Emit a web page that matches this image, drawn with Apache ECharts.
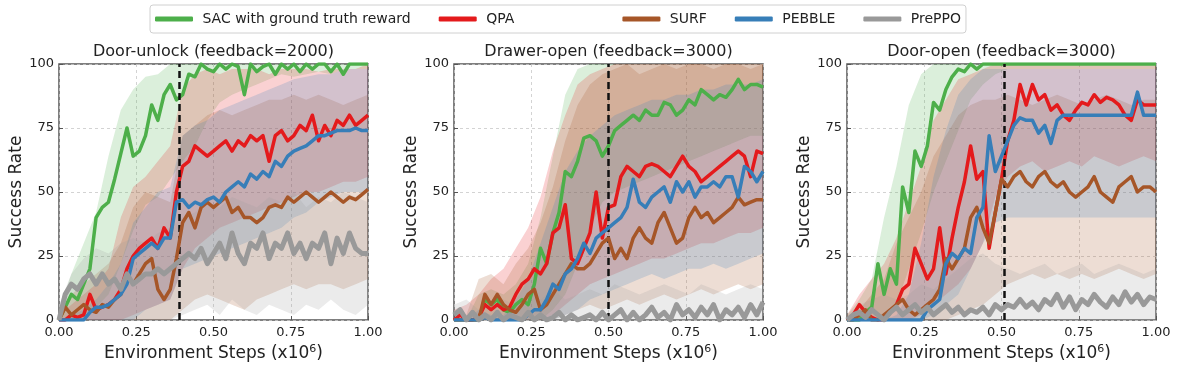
<!DOCTYPE html>
<html>
<head>
<meta charset="utf-8">
<script src="https://cdn.jsdelivr.net/npm/echarts@6/dist/echarts.min.js"></script>
<style>
  html, body { margin: 0; padding: 0; background: #fff; }
  #chart { width: 1179px; height: 370px; }
</style>
</head>
<body>
<div id="chart"></div>
<script>
// x positions (environment steps, x10^6)
const steps = [0,0.02,0.04,0.06,0.08,0.1,0.12,0.14,0.16,0.18,0.2,0.22,0.24,0.26,0.28,0.3,0.32,0.34,0.36,0.38,0.4,0.42,0.44,0.46,0.48,0.5,0.52,0.54,0.56,0.58,0.6,0.62,0.64,0.66,0.68,0.7,0.72,0.74,0.76,0.78,0.8,0.82,0.84,0.86,0.88,0.9,0.92,0.94,0.96,0.98,1]
const bandSteps = [0,0.04,0.08,0.12,0.16,0.2,0.24,0.28,0.32,0.36,0.4,0.44,0.48,0.52,0.56,0.6,0.64,0.68,0.72,0.76,0.8,0.84,0.88,0.92,0.96,1]

const methods = ['SAC with ground truth reward', 'QPA', 'SURF', 'PEBBLE', 'PrePPO']
const titles = ['Door-unlock (feedback=2000)', 'Drawer-open (feedback=3000)', 'Door-open (feedback=3000)']
const switchSteps = [0.39, 0.5, 0.505]
const yTicks = [0, 25, 50, 75, 100]

// Door-unlock
const unlockSac = [0,5,10,8,14,20,40,44,46,55,65,75,64,66,72,84,78,88,92,86,88,96,95,100,98,97,100,98,100,99,88,100,97,99,100,96,100,98,100,97,100,98,100,100,97,100,96,100,100,100,100]
const unlockQpa = [0,0,2,1,2,10,4,5,6,8,12,20,25,28,30,32,28,36,32,50,60,62,68,66,64,66,68,70,66,70,68,72,70,72,62,72,74,70,72,76,74,80,70,76,72,78,76,80,76,78,80]
const unlockSurf = [0,5,2,4,6,4,3,6,5,8,10,18,14,18,22,24,12,8,12,24,38,42,36,44,46,44,46,48,42,44,40,40,38,40,44,45,44,48,46,48,50,48,46,48,50,48,46,48,47,49,51]
const unlockPebble = [0,0,0,0,0,3,5,5,6,8,10,14,24,26,28,30,28,32,32,46,47,44,46,45,47,48,46,50,52,54,52,57,55,58,56,62,60,64,66,67,68,70,72,72,73,74,74,74,75,74,74]
const unlockPreppo = [0,10,14,12,16,18,14,18,14,16,12,18,14,16,18,18,20,18,20,22,24,26,24,28,22,26,30,24,34,26,22,30,28,34,24,30,28,34,26,30,24,30,28,34,22,32,26,34,28,26,26]
const unlockSacLo = [0,0,2,5,10,22,35,45,48,55,62,68,78,85,88,90,92,94,96,95,96,97,96,98,98,98]
const unlockSacHi = [4,18,30,42,64,82,90,95,96,100,100,100,100,100,100,100,100,100,100,100,100,100,100,100,100,100]
const unlockQpaLo = [0,0,0,0,0,0,2,4,6,8,20,28,32,36,38,40,42,44,46,48,50,50,52,54,54,56]
const unlockQpaHi = [2,6,10,14,20,40,52,56,62,68,90,96,98,96,98,98,98,96,98,98,98,97,98,98,98,100]
const unlockSurfLo = [0,0,0,0,0,0,0,0,0,0,4,8,10,8,6,4,8,10,12,14,12,14,14,12,14,16]
const unlockSurfHi = [4,10,14,18,22,30,44,50,48,46,72,76,80,82,80,82,84,86,86,88,86,88,86,84,86,88]
const unlockPebbleLo = [0,0,0,0,0,0,0,4,6,8,20,22,24,26,28,30,32,34,36,40,42,46,48,50,50,50]
const unlockPebbleHi = [0,2,4,8,14,22,38,44,50,52,72,76,78,82,84,86,88,90,92,94,95,96,96,98,98,98]
const unlockPreppoLo = [0,0,0,0,0,0,0,0,0,0,2,4,6,2,8,4,2,6,4,2,6,4,8,4,2,6]
const unlockPreppoHi = [6,18,24,28,26,30,32,30,34,36,40,42,46,44,48,46,44,48,46,50,44,48,46,50,48,46]

// Drawer-open
const drawerSac = [0,0,0,0,0,8,6,8,4,3,6,8,6,14,28,22,34,42,58,56,62,71,72,70,64,68,74,76,78,80,78,82,80,80,85,84,80,82,86,84,90,88,86,88,87,90,94,90,92,92,91]
const drawerQpa = [0,2,0,0,1,6,4,6,4,5,10,14,16,20,18,22,34,36,45,24,22,28,34,50,32,44,45,56,60,58,56,60,61,60,58,56,60,64,60,58,54,56,58,60,62,64,66,64,56,66,65]
const drawerSurf = [0,0,0,0,0,10,6,10,6,4,3,6,10,12,4,6,10,14,18,22,20,20,22,26,30,32,24,28,24,32,36,32,30,38,42,36,30,32,40,44,40,42,38,40,42,44,48,45,46,47,47]
const drawerPebble = [0,0,0,0,0,1,0,0,0,0,0,0,2,4,4,8,14,12,18,20,24,30,26,32,34,36,38,40,44,55,46,44,48,50,52,46,54,50,54,48,52,52,54,52,56,56,48,60,58,54,58]
const drawerPreppo = [2,4,0,3,0,2,0,3,0,2,1,0,3,0,2,0,1,3,0,2,0,1,2,0,3,0,2,4,0,3,0,2,5,1,3,0,6,2,4,1,5,2,6,0,4,2,5,1,6,2,7]
const drawerSacLo = [0,0,0,0,0,0,0,0,4,10,22,36,46,50,52,54,56,58,60,62,64,66,68,70,72,72]
const drawerSacHi = [0,0,10,12,10,14,22,40,64,88,98,100,100,100,100,100,100,100,100,100,100,100,100,100,100,100]
const drawerQpaLo = [0,0,0,0,0,0,0,0,2,6,10,14,16,18,20,22,24,24,26,28,30,30,32,34,34,36]
const drawerQpaHi = [4,6,10,16,20,28,36,48,66,80,92,96,98,100,100,100,100,100,100,100,100,100,100,100,100,100]
const drawerSurfLo = [0,0,0,0,0,0,0,0,0,2,4,6,4,6,8,6,8,10,8,10,12,10,12,14,12,14]
const drawerSurfHi = [0,2,16,18,14,22,28,38,52,70,84,92,96,98,100,96,98,100,98,100,100,98,100,100,98,100]
const drawerPebbleLo = [0,0,0,0,0,0,0,0,0,2,4,8,10,12,14,16,18,16,18,20,20,22,20,22,24,26]
const drawerPebbleHi = [0,0,4,2,2,8,16,30,44,58,66,72,76,80,82,84,86,86,88,88,90,90,92,92,92,94]
const drawerPreppoLo = [0,0,0,0,0,0,0,0,0,0,0,0,0,0,0,0,0,0,0,0,0,0,0,0,0,0]
const drawerPreppoHi = [6,8,4,6,8,6,10,8,12,8,10,12,10,14,12,10,12,14,12,10,14,12,10,12,14,12]

// Door-open
const openSac = [0,0,0,3,5,22,10,20,14,52,42,66,60,68,85,82,90,95,98,97,100,98,100,100,100,100,100,100,100,100,100,100,100,100,100,100,100,100,100,100,100,100,100,100,100,100,100,100,100,100,100]
const openQpa = [0,2,6,3,1,0,0,3,6,12,14,28,22,16,20,36,18,32,44,54,68,55,58,28,42,55,70,78,92,84,92,86,88,82,84,80,78,82,85,84,88,85,87,86,84,80,78,86,84,84,84]
const openSurf = [0,0,2,4,0,0,2,4,6,8,4,2,4,6,8,12,24,20,24,28,40,44,36,30,42,55,52,56,58,54,52,56,58,54,52,54,50,48,50,52,56,50,48,46,52,54,56,50,52,52,50]
const openPebble = [0,0,0,0,0,0,0,0,0,0,0,0,0,4,6,8,22,26,24,28,26,40,44,72,58,64,70,76,79,78,78,73,76,69,78,80,80,80,80,80,80,80,80,80,80,80,80,89,80,80,80]
const openPreppo = [0,2,3,1,4,2,0,3,5,2,4,6,3,5,2,4,6,3,5,2,4,3,5,2,6,4,6,5,8,5,7,4,8,6,10,5,9,4,8,6,10,7,5,9,6,11,7,10,6,9,8]
const openSacLo = [0,0,0,0,6,20,34,50,62,74,86,92,96,98,98,98,98,98,98,98,98,98,98,98,98,98]
const openSacHi = [2,8,16,40,60,84,96,100,100,100,100,100,100,100,100,100,100,100,100,100,100,100,100,100,100,100]
const openQpaLo = [0,0,0,0,0,0,2,6,10,14,20,30,48,56,60,62,58,60,62,60,64,62,60,62,64,62]
const openQpaHi = [2,10,16,22,32,46,60,78,86,94,96,98,100,100,100,100,100,100,100,100,100,100,100,100,100,100]
const openSurfLo = [0,0,0,0,0,0,0,0,0,2,4,6,10,14,16,18,16,18,16,18,16,18,20,18,16,18]
const openSurfHi = [0,4,10,16,30,40,50,64,72,80,84,86,86,88,86,84,86,88,86,84,86,88,86,84,86,86]
const openPebbleLo = [0,0,0,0,0,0,0,2,6,10,20,30,38,40,40,40,40,40,40,40,40,40,40,40,40,40]
const openPebbleHi = [0,0,0,0,2,10,30,56,74,88,94,98,98,98,98,98,98,98,98,98,98,98,98,98,98,98]
const openPreppoLo = [0,0,0,0,0,0,0,0,0,0,0,0,0,0,0,0,0,0,0,0,0,0,0,0,0,0]
const openPreppoHi = [2,6,8,10,8,10,14,12,16,20,24,26,22,20,18,20,22,18,20,22,18,20,22,20,18,20]

const colors = ['#4daf4a', '#e41a1c', '#a65628', '#377eb8', '#999999']
const bandColors = ['rgba(77,175,74,0.2)', 'rgba(228,26,28,0.2)', 'rgba(166,86,40,0.2)', 'rgba(55,126,184,0.2)', 'rgba(153,153,153,0.2)']
const gridLefts = [59, 454, 847]
const gridWidth = 309

const panels = [
    { mean: [unlockSac, unlockQpa, unlockSurf, unlockPebble, unlockPreppo],
      lo: [unlockSacLo, unlockQpaLo, unlockSurfLo, unlockPebbleLo, unlockPreppoLo],
      hi: [unlockSacHi, unlockQpaHi, unlockSurfHi, unlockPebbleHi, unlockPreppoHi] },
    { mean: [drawerSac, drawerQpa, drawerSurf, drawerPebble, drawerPreppo],
      lo: [drawerSacLo, drawerQpaLo, drawerSurfLo, drawerPebbleLo, drawerPreppoLo],
      hi: [drawerSacHi, drawerQpaHi, drawerSurfHi, drawerPebbleHi, drawerPreppoHi] },
    { mean: [openSac, openQpa, openSurf, openPebble, openPreppo],
      lo: [openSacLo, openQpaLo, openSurfLo, openPebbleLo, openPreppoLo],
      hi: [openSacHi, openQpaHi, openSurfHi, openPebbleHi, openPreppoHi] }
]

// shaded min/max band as one polygon through the axis scales
function bandSeries(p, lo, hi, fill) {
    return {
        type: 'custom',
        xAxisIndex: p,
        yAxisIndex: p,
        silent: true,
        z: 1,
        data: [[bandSteps[0], lo[0]]],
        renderItem: function (params, api) {
            const pts = []
            for (let i = 0; i < bandSteps.length; i++) pts.push(api.coord([bandSteps[i], hi[i]]))
            for (let i = bandSteps.length - 1; i >= 0; i--) pts.push(api.coord([bandSteps[i], lo[i]]))
            return { type: 'polygon', shape: { points: pts }, style: { fill: fill } }
        }
    }
}

const grids = [], xAxes = [], yAxes = [], titleList = [], series = []

panels.forEach(function (panel, p) {
    grids.push({
        left: gridLefts[p], width: gridWidth, top: 64, height: 256,
        show: true, borderColor: '#555', borderWidth: 1.5, backgroundColor: 'transparent'
    })
    titleList.push({
        text: titles[p],
        left: gridLefts[p] + gridWidth / 2,
        top: 44,
        textAlign: 'center',
        padding: 0,
        textStyle: { fontSize: 16, fontWeight: 'normal', color: '#222', fontFamily: 'DejaVu Sans' }
    })
    xAxes.push({
        type: 'value', gridIndex: p, min: 0, max: 1, interval: 0.25,
        name: '{a|Environment Steps (x10}{s|6}{a|)}',
        nameLocation: 'middle', nameGap: 22,
        nameTextStyle: {
            rich: {
                a: { fontSize: 17, color: '#222', fontFamily: 'DejaVu Sans' },
                s: { fontSize: 11, color: '#222', fontFamily: 'DejaVu Sans', verticalAlign: 'top', padding: [0, 0, 8, 0] }
            }
        },
        axisLine: { show: false },
        axisTick: { inside: true, length: 4, lineStyle: { color: '#555' } },
        axisLabel: { fontSize: 13, color: '#222', margin: 6, formatter: v => v.toFixed(2) },
        splitLine: { show: true, lineStyle: { type: [3, 3], color: '#c8c8c8', width: 0.8 } }
    })
    yAxes.push({
        type: 'value', gridIndex: p, min: yTicks[0], max: yTicks[yTicks.length - 1], interval: 25,
        name: 'Success Rate', nameLocation: 'middle', nameGap: 33,
        nameTextStyle: { fontSize: 17, color: '#222' },
        axisLine: { show: false },
        axisTick: { inside: true, length: 4, lineStyle: { color: '#555' } },
        axisLabel: { fontSize: 13, color: '#222', margin: 5 },
        splitLine: { show: true, lineStyle: { type: [3, 3], color: '#c8c8c8', width: 0.8 } }
    })
    methods.forEach(function (m, k) {
        series.push(bandSeries(p, panel.lo[k], panel.hi[k], bandColors[k]))
    })
    methods.forEach(function (m, k) {
        const s = {
            type: 'line',
            name: m,
            xAxisIndex: p,
            yAxisIndex: p,
            data: steps.map((x, i) => [x, panel.mean[k][i]]),
            showSymbol: false,
            symbol: 'none',
            z: 3 + k,
            lineStyle: { width: k === 4 ? 5 : 3.5, color: colors[k], join: 'round' },
            itemStyle: { color: colors[k] }
        }
        if (k === 4) {
            s.markLine = {
                silent: true,
                symbol: ['none', 'none'],
                label: { show: false },
                lineStyle: { color: '#111', type: [7, 4], width: 2.5 },
                data: [{ xAxis: switchSteps[p] }]
            }
        }
        series.push(s)
    })
})

const option = {
    animation: false,
    textStyle: { fontFamily: 'DejaVu Sans' },
    title: titleList,
    legend: {
        data: methods,
        left: 150,
        top: 5,
        icon: 'roundRect',
        itemWidth: 38,
        itemHeight: 5,
        itemGap: 28,
        padding: [7, 5, 7, 5],
        borderColor: '#d0d0d0',
        borderWidth: 1,
        borderRadius: 3,
        // the QPA entry sits in a wider column in the original legend
        formatter: name => name === 'QPA' ? ' QPA' + '\u00a0'.repeat(18) : ' ' + name,
        textStyle: { fontSize: 14, color: '#222' }
    },
    grid: grids,
    xAxis: xAxes,
    yAxis: yAxes,
    series: series
}

const myChart = echarts.init(document.getElementById('chart'))
myChart.setOption(option)
</script>
</body>
</html>
